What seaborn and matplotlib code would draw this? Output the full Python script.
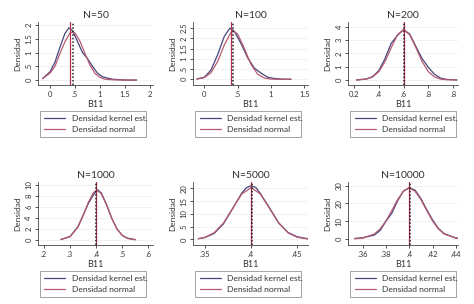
import numpy as np
import pandas as pd
import matplotlib
matplotlib.use("Agg")
import matplotlib.pyplot as plt
import seaborn as sns

# panel titles
titles = ["N=50", "N=100", "N=200", "N=1000", "N=5000", "N=10000"]

# kernel density estimate curves
kern_x = [
    [-0.15, 0.0, 0.1, 0.2, 0.3, 0.38, 0.45, 0.55, 0.65, 0.75, 0.85, 0.95, 1.05, 1.15, 1.25, 1.5, 1.73],
    [-0.11, 0.0, 0.1, 0.2, 0.3, 0.385, 0.45, 0.55, 0.65, 0.75, 0.85, 0.95, 1.05, 1.15, 1.3],
    [0.22, 0.3, 0.35, 0.4, 0.45, 0.5, 0.55, 0.6, 0.65, 0.7, 0.75, 0.8, 0.85, 0.9, 0.95, 1.03],
    [0.265, 0.3, 0.33, 0.35, 0.37, 0.39, 0.405, 0.42, 0.44, 0.46, 0.48, 0.5, 0.52, 0.55],
    [0.343, 0.35, 0.36, 0.37, 0.38, 0.39, 0.395, 0.4, 0.405, 0.41, 0.42, 0.43, 0.44, 0.45, 0.455, 0.462],
    [0.353, 0.36, 0.37, 0.375, 0.38, 0.385, 0.39, 0.395, 0.4, 0.405, 0.41, 0.415, 0.42, 0.425, 0.43, 0.44, 0.443],
]
kern_y = [
    [0.05, 0.3, 0.65, 1.2, 1.7, 1.9, 1.8, 1.4, 1.0, 0.78, 0.5, 0.25, 0.12, 0.07, 0.03, 0.0, 0.0],
    [0.02, 0.1, 0.45, 1.2, 2.1, 2.5, 2.35, 1.75, 1.05, 0.55, 0.3, 0.1, 0.04, 0.01, 0.0],
    [0.0, 0.08, 0.25, 0.7, 1.6, 2.75, 3.35, 3.78, 3.45, 2.5, 1.6, 0.95, 0.42, 0.13, 0.04, 0.0],
    [0.1, 0.65, 2.4, 4.5, 6.6, 8.2, 9.1, 8.5, 6.4, 3.9, 2.0, 0.85, 0.35, 0.08],
    [0.25, 0.7, 2.3, 6.0, 12.0, 18.2, 20.3, 21.0, 20.4, 18.0, 12.3, 6.4, 2.7, 1.0, 0.7, 0.2],
    [0.3, 0.7, 2.2, 4.8, 10.0, 14.5, 21.5, 27.0, 28.9, 27.5, 22.8, 16.5, 10.8, 6.0, 3.0, 0.6, 0.35],
]

# normal density curves
norm_x = [
    [-0.15, 0.0, 0.1, 0.2, 0.3, 0.4, 0.45, 0.5, 0.6, 0.7, 0.8, 0.9, 1.0, 1.1, 1.25, 1.5, 1.73],
    [-0.11, 0.0, 0.1, 0.2, 0.3, 0.4, 0.44, 0.5, 0.6, 0.7, 0.8, 0.9, 1.0, 1.1, 1.3],
    [0.22, 0.3, 0.35, 0.4, 0.45, 0.5, 0.55, 0.6, 0.65, 0.7, 0.75, 0.8, 0.85, 0.9, 0.95, 1.03],
    [0.265, 0.3, 0.33, 0.35, 0.37, 0.39, 0.403, 0.42, 0.44, 0.46, 0.48, 0.5, 0.52, 0.55],
    [0.343, 0.35, 0.36, 0.37, 0.38, 0.39, 0.4, 0.41, 0.42, 0.43, 0.44, 0.45, 0.462],
    [0.353, 0.36, 0.37, 0.375, 0.38, 0.385, 0.39, 0.395, 0.4, 0.405, 0.41, 0.415, 0.42, 0.425, 0.43, 0.44, 0.443],
]
norm_y = [
    [0.05, 0.25, 0.5, 0.97, 1.4, 1.71, 1.75, 1.71, 1.41, 0.96, 0.54, 0.24, 0.1, 0.03, 0.01, 0.0, 0.0],
    [0.01, 0.08, 0.32, 0.87, 1.68, 2.29, 2.35, 2.21, 1.51, 0.73, 0.25, 0.06, 0.01, 0.0, 0.0],
    [0.0, 0.06, 0.22, 0.62, 1.37, 2.42, 3.39, 3.8, 3.39, 2.42, 1.37, 0.62, 0.22, 0.06, 0.015, 0.0],
    [0.07, 0.6, 2.31, 4.4, 6.82, 8.62, 9.0, 8.36, 6.35, 3.93, 1.99, 0.82, 0.27, 0.04],
    [0.3, 0.8, 2.56, 6.32, 12.1, 17.8, 20.3, 17.8, 12.1, 6.32, 2.56, 0.8, 0.14],
    [0.09, 0.46, 2.8, 5.69, 10.2, 16.0, 22.2, 26.9, 28.7, 26.9, 22.2, 16.0, 10.2, 5.69, 2.8, 0.46, 0.25],
]

# true value (solid red line) and estimated mean (dotted line)
true_vals = [0.4, 0.4, 0.6, 0.4, 0.4, 0.4]
mean_vals = [0.453, 0.435, 0.602, 0.401, 0.4005, 0.4003]

# ticks
xticks = [[0, 0.5, 1, 1.5, 2], [0, 0.5, 1, 1.5], [0.2, 0.4, 0.6, 0.8, 1.0],
          [0.2, 0.3, 0.4, 0.5, 0.6], [0.35, 0.4, 0.45], [0.36, 0.38, 0.4, 0.42, 0.44]]
xticklabels = [["0", ".5", "1", "1.5", "2"], ["0", ".5", "1", "1.5"], ["0.2", ".4", ".6", ".8", ".8"],
               [".2", ".3", ".4", ".5", ".6"], [".35", ".4", ".45"], [".36", ".38", ".4", ".42", ".44"]]
yticks = [[0, 0.5, 1, 1.5, 2], [0, 0.5, 1, 1.5, 2, 2.5], [0, 1, 2, 3, 4],
          [0, 2, 4, 6, 8, 10], [0, 5, 10, 15, 20], [0, 10, 20, 30]]
yticklabels = [["0", ".5", "1", "1.5", "2"], ["0", ".5", "1", "1.5", "2", "2.5"], ["0", "1", "2", "3", "4"],
               ["0", "2", "4", "6", "8", "10"], ["0", "5", "10", "15", "20"], ["0", "10", "20", "30"]]
xlims = [(-0.24, 2.06), (-0.165, 1.555), (0.154, 1.039), (0.177, 0.618), (0.3376, 0.4615), (0.3476, 0.4419)]
ylims = [(-0.18, 2.11), (-0.28, 2.8), (-0.38, 4.36), (-0.9, 10.5), (-2.2, 22.5), (-3.4, 32.1)]

legend_labels = ["Densidad kernel est.", "Densidad normal"]

sns.set_style("white")
plt.rcParams["font.family"] = ["Lato", "DejaVu Sans"]

W, H = 474, 304
fig = plt.figure(figsize=(W / 100, H / 100), dpi=100)

col_l = [38, 193.3, 348.3]
col_r = [153, 308, 458]
row_t = [22, 182]
row_b = [85, 245]

kcol = "#46467e"
ncol = "#b85a72"
txt = "#333333"

for i in range(6):
    r, c = divmod(i, 3)
    ax = fig.add_axes([col_l[c] / W, 1 - row_b[r] / H, (col_r[c] - col_l[c]) / W, (row_b[r] - row_t[r]) / H])
    for yt in yticks[i]:
        ax.axhline(yt, color="#ebebeb", lw=0.5, zorder=0)
    dk = pd.DataFrame({"x": kern_x[i], "y": kern_y[i]})
    dn = pd.DataFrame({"x": norm_x[i], "y": norm_y[i]})
    sns.lineplot(data=dk, x="x", y="y", ax=ax, color=kcol, lw=0.9, label=legend_labels[0], zorder=3)
    sns.lineplot(data=dn, x="x", y="y", ax=ax, color=ncol, lw=0.9, label=legend_labels[1], zorder=3)
    ax.axvline(true_vals[i], color="#b03050", lw=0.9, zorder=4)
    ax.axvline(mean_vals[i], color="#222222", lw=1.1, ls=(0, (1, 1.3)), zorder=5)
    ax.set_xlim(*xlims[i])
    ax.set_ylim(*ylims[i])
    ax.set_xticks(xticks[i])
    ax.set_xticklabels(xticklabels[i])
    ax.set_yticks(yticks[i])
    ax.set_yticklabels(yticklabels[i], rotation=90, va="center")
    ax.tick_params(axis="both", length=2, width=0.6, pad=2, labelsize=5.5, colors=txt, direction="out")
    ax.tick_params(left=True, bottom=True)
    for s in ["top", "right"]:
        ax.spines[s].set_visible(False)
    for s in ["left", "bottom"]:
        ax.spines[s].set_linewidth(0.6)
        ax.spines[s].set_color("#444444")
    ax.set_title(titles[i], fontsize=7.5, color=txt, pad=3)
    ax.set_xlabel("B11", fontsize=6.5, color=txt, labelpad=2)
    ax.set_ylabel("Densidad", fontsize=6, color=txt, labelpad=3)

    ax_w = col_r[c] - col_l[c]
    ax_h = row_b[r] - row_t[r]
    bx0 = 2 / ax_w
    bw = 106 / ax_w
    by_top = -(row_t[r] + 89 - row_b[r]) / ax_h
    leg = ax.legend(loc="upper left", bbox_to_anchor=(bx0, by_top, bw, 0), mode="expand",
                    borderaxespad=0, fontsize=6.1, handlelength=2.5, handletextpad=0.8,
                    borderpad=0.5, labelspacing=0.4, frameon=True, fancybox=False)
    leg.get_frame().set_edgecolor("#777777")
    leg.get_frame().set_linewidth(0.6)
    for t in leg.get_texts():
        t.set_color(txt)

fig.savefig("out.png", dpi=100)
